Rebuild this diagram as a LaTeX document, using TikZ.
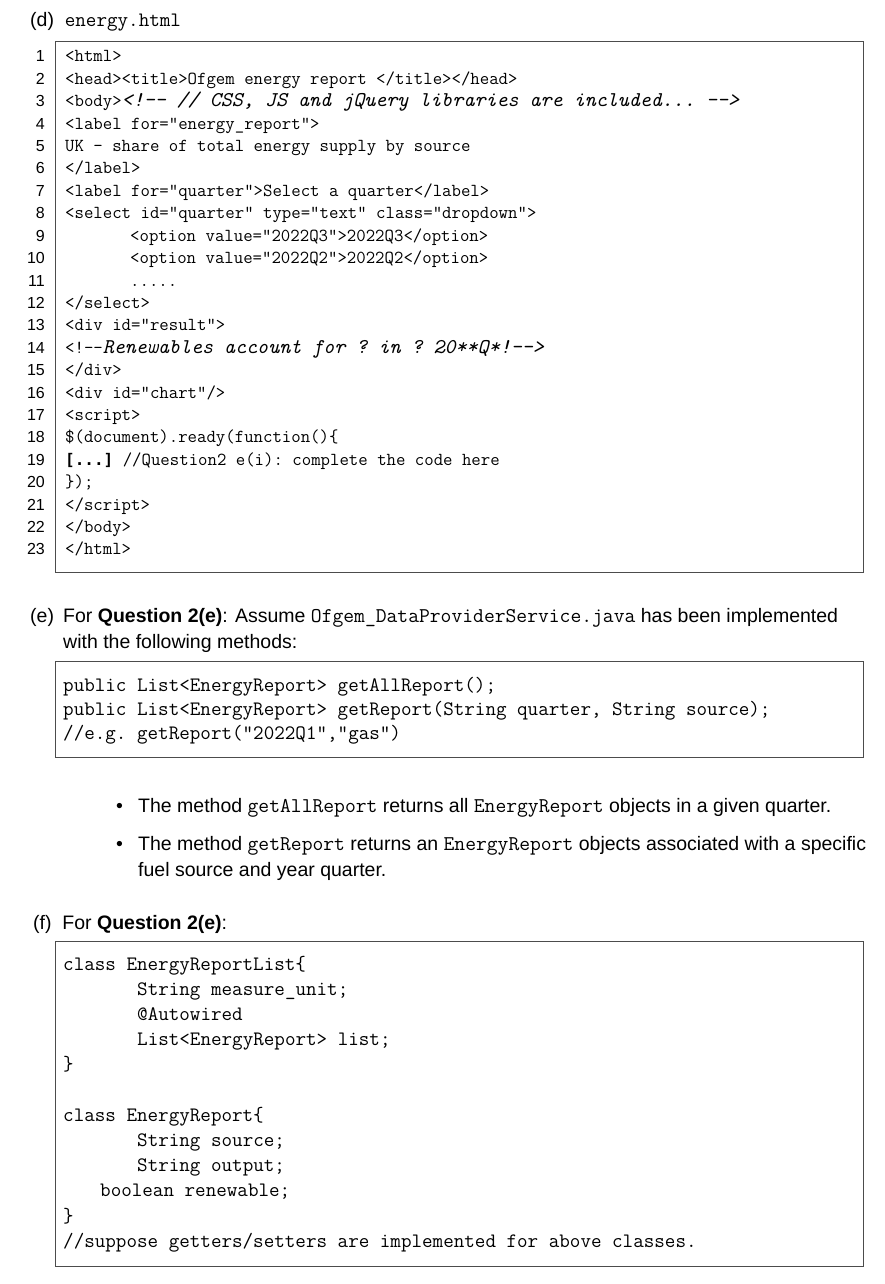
\documentclass[tikz,border=0pt]{standalone}
\usepackage{fontspec}
\setmainfont{Liberation Sans}
\setsansfont{Liberation Sans}
\setmonofont{Latin Modern Mono}
\newfontfamily\bmono{DejaVu Sans Mono}
\newcommand\itc{\itshape\fontsize{21}{22}\selectfont}
\newcommand\imono{\ttfamily\fontsize{21}{22}\selectfont}
\tikzset{
  frame/.style={draw=black!70,line width=0.8pt},
  cA/.style={inner sep=0pt,anchor=base west,font=\fontsize{18.3}{20}\ttfamily},
  cB/.style={inner sep=0pt,anchor=base west,font=\fontsize{20.5}{22}\ttfamily},
  num/.style={inner sep=0pt,anchor=base east,font=\fontsize{16}{18}\sffamily},
  txt/.style={inner sep=0pt,anchor=base west,font=\fontsize{19.5}{22}\sffamily},
}
\newcommand\ca[3]{\node[cA] (a#1) at (65pt,{-(62+(#1-1)*22.4)*1pt}) {\hspace*{#2pt}#3};
  \node[num] (n#1) at (45pt,{-(62+(#1-1)*22.4)*1pt}) {#1};}
\newcommand\cb[4]{\node[cB] (#1) at (#2pt,-#3pt) {#4};}
\begin{document}
\begin{tikzpicture}
\useasboundingbox (0,0) rectangle (884pt,-1284pt);
% (d)
\node[txt] (dlab) at (30pt,-27pt) {(d)\ \ {\ttfamily\fontsize{20.5}{22}\selectfont energy.html}};
\draw[frame] (55pt,-41pt) rectangle (863pt,-572pt);
\ca{1}{0}{<html>}
\ca{2}{0}{<head><title>Ofgem energy report </title></head>}
\ca{3}{0}{<body>{\itc <!-- // CSS, JS and jQuery libraries are included... -->}}
\ca{4}{0}{<label for="energy\_report">}
\ca{5}{0}{UK - share of total energy supply by source}
\ca{6}{0}{</label>}
\ca{7}{0}{<label for="quarter">Select a quarter</label>}
\ca{8}{0}{<select id="quarter" type="text" class="dropdown">}
\ca{9}{65}{<option value="2022Q3">2022Q3</option>}
\ca{10}{65}{<option value="2022Q2">2022Q2</option>}
\ca{11}{65}{.....}
\ca{12}{0}{</select>}
\ca{13}{0}{<div id="result">}
\ca{14}{0}{<!-{}-{\itc Renewables account for ? in ? 20**Q*!-->}}
\ca{15}{0}{</div>}
\ca{16}{0}{<div id="chart"/>}
\ca{17}{0}{<script>}
\ca{18}{0}{\$(document).ready(function()\{}
\ca{19}{0}{{\bmono\bfseries\fontsize{16}{18}\selectfont[...]} //Question2 e(i): complete the code here}
\ca{20}{0}{\});}
\ca{21}{0}{</script>}
\ca{22}{0}{</body>}
\ca{23}{0}{</html>}
% (e)
\node[txt] (elab) at (30pt,-622pt) {(e)};
\node[txt] (e1) at (63pt,-622pt) {For \textbf{Question 2(e)}: Assume {\imono Ofgem\_DataProviderService.java} has been implemented};
\node[txt] (e2) at (63pt,-648pt) {with the following methods:};
\draw[frame] (55pt,-661pt) rectangle (863pt,-757pt);
\cb{b1}{63}{691}{public List<EnergyReport> getAllReport();}
\cb{b2}{63}{715}{public List<EnergyReport> getReport(String quarter, String source);}
\cb{b3}{63}{739}{//e.g. getReport("2022Q1","gas")}
\node[txt] (bul1) at (116pt,-812pt) {\textbullet};
\node[txt] (t1) at (138pt,-812pt) {The method {\imono getAllReport} returns all {\imono EnergyReport} objects in a given quarter.};
\node[txt] (bul2) at (116pt,-850pt) {\textbullet};
\node[txt] (t2) at (138pt,-850pt) {The method {\imono getReport} returns an {\imono EnergyReport} objects associated with a specific};
\node[txt] (t3) at (138pt,-876pt) {fuel source and year quarter.};
% (f)
\node[txt] (flab) at (33pt,-929pt) {(f)\ \ For \textbf{Question 2(e)}:};
\draw[frame] (55pt,-941pt) rectangle (863pt,-1266pt);
\cb{f1}{63}{970}{class EnergyReportList\{}
\cb{f2}{137}{995.2}{String measure\_unit;}
\cb{f3}{137}{1020.4}{@Autowired}
\cb{f4}{137}{1045.6}{List<EnergyReport> list;}
\cb{f5}{63}{1070.8}{\}}
\cb{f6}{63}{1121.2}{class EnergyReport\{}
\cb{f7}{137}{1146.4}{String source;}
\cb{f8}{137}{1171.6}{String output;}
\cb{f9}{100}{1196.8}{boolean renewable;}
\cb{f10}{63}{1222}{\}}
\cb{f11}{63}{1247.2}{//suppose getters/setters are implemented for above classes.}
\end{tikzpicture}
\end{document}
